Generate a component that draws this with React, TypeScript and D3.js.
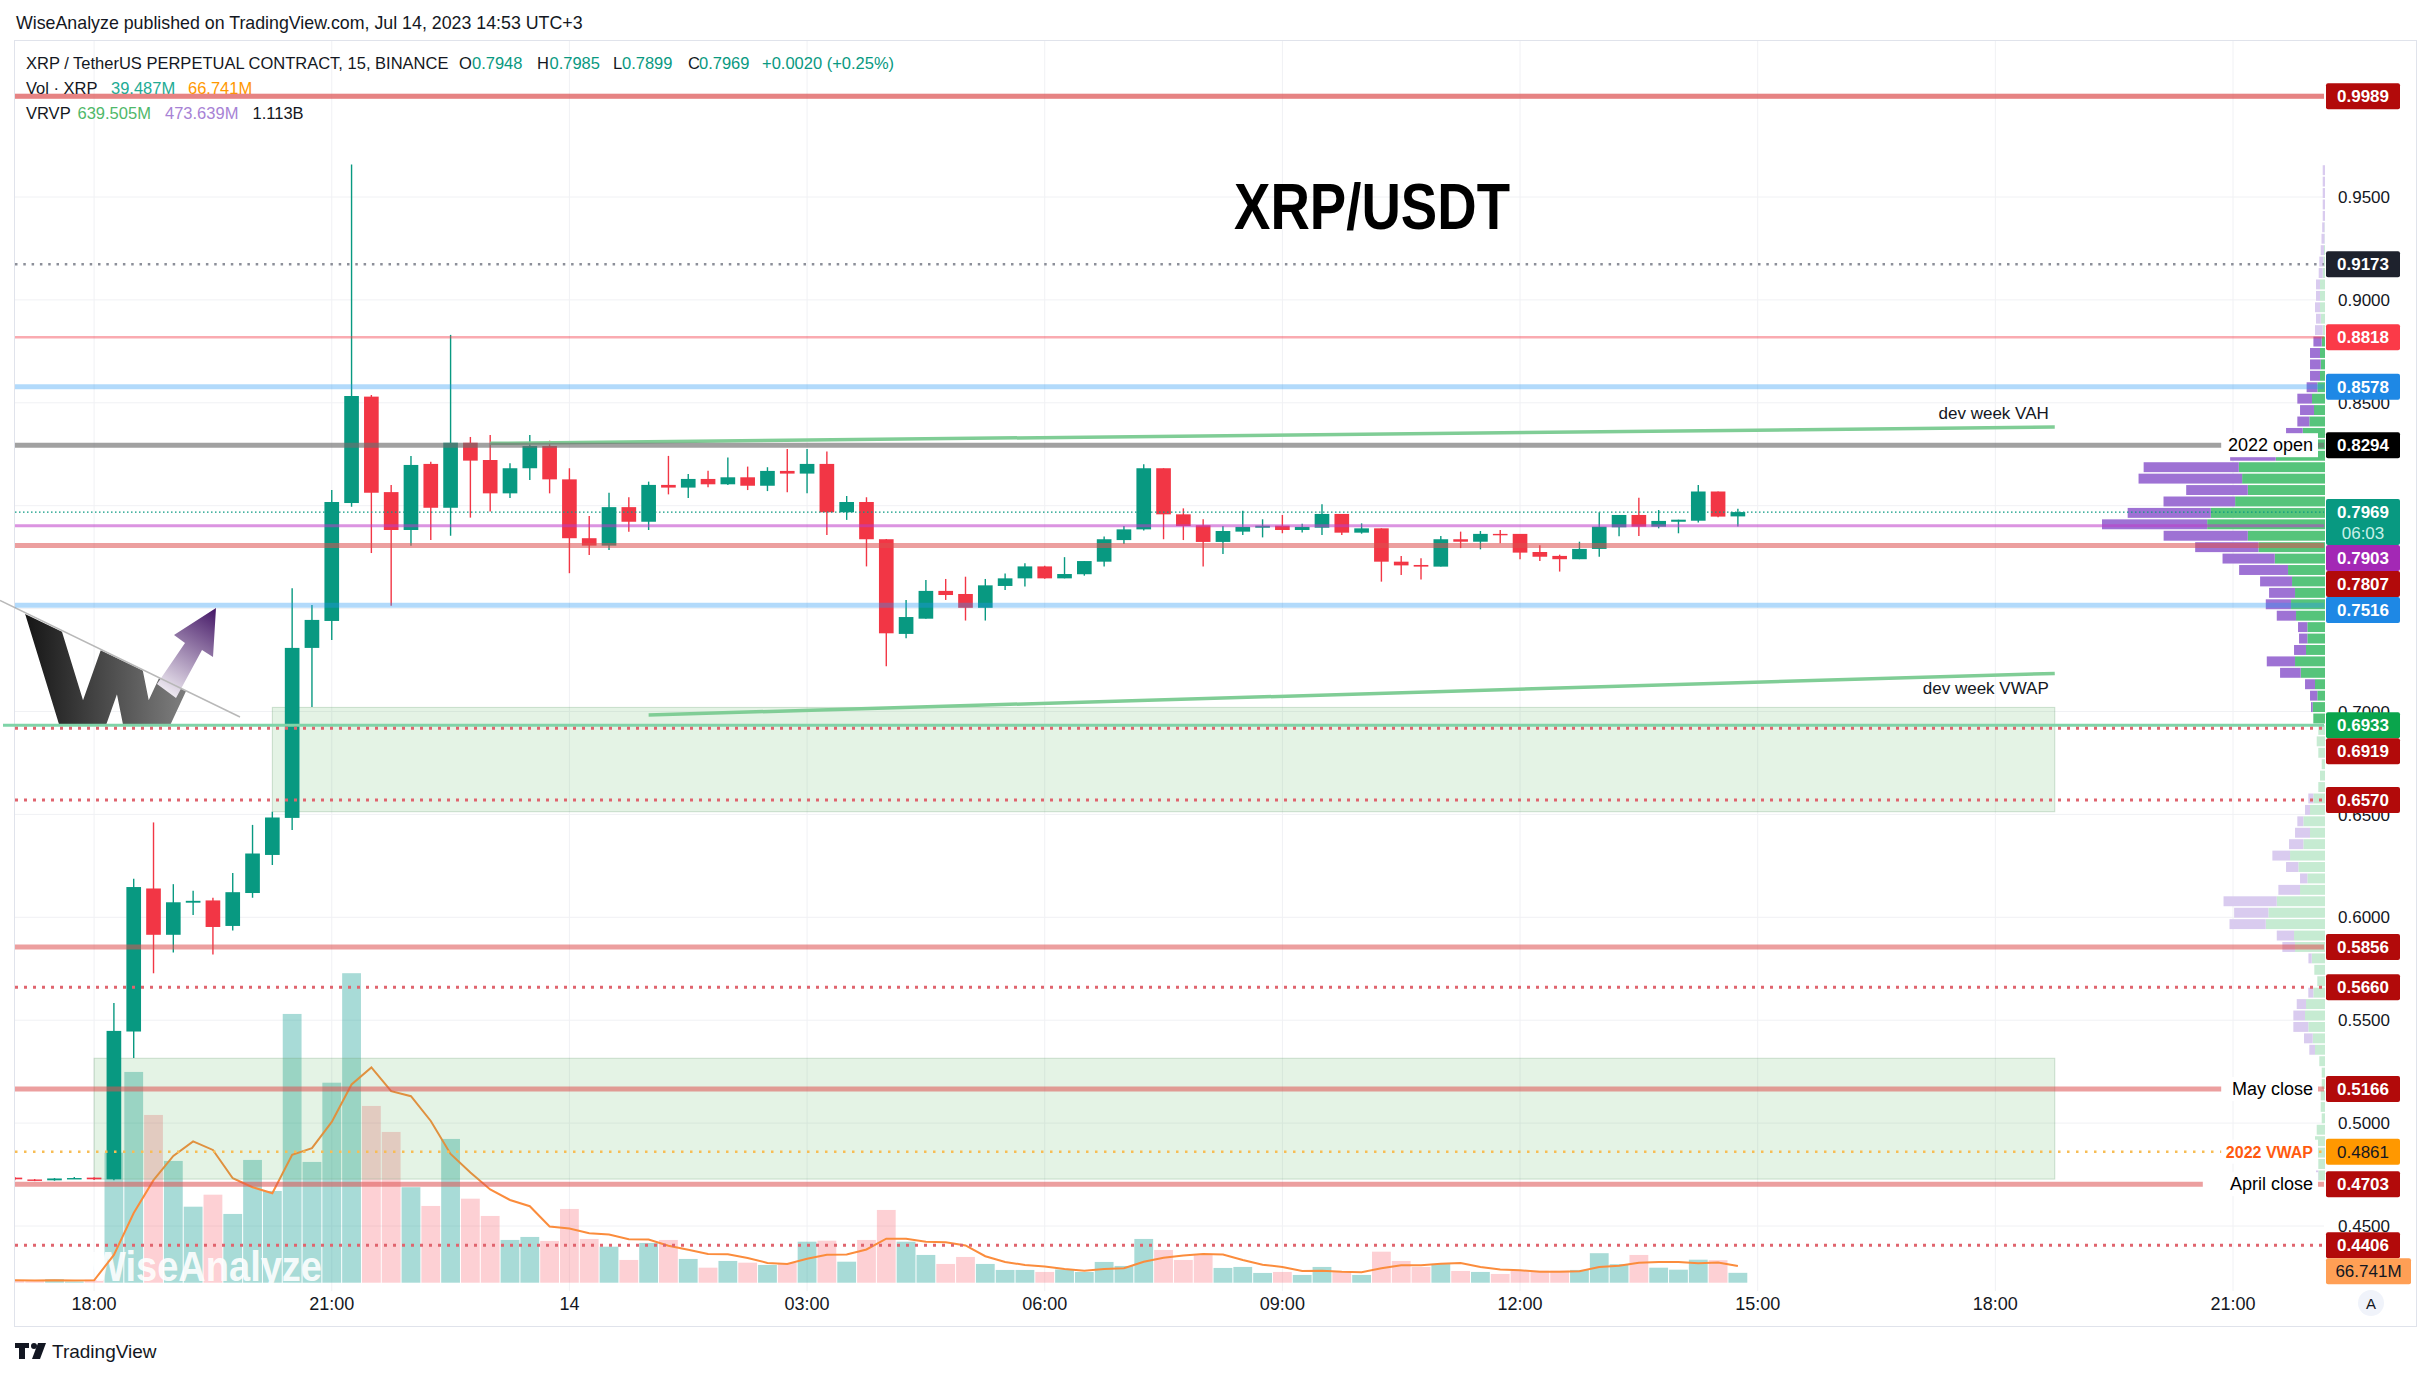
import * as d3 from "d3";

// 15 minute bars, first one Jul 13 2023 17:00 (exchange time, UTC+3)
const firstBar = new Date(2023, 6, 13, 17, 0);

const opens = [
  0.4735, 0.4726, 0.4722, 0.4730, 0.4735,
  0.4727, 0.5445, 0.6140, 0.5915, 0.6071, 0.6082, 0.5958, 0.6118, 0.6303, 0.6483,
  0.7309, 0.7440, 0.8013, 0.8530, 0.8066, 0.7882, 0.8203, 0.7990, 0.8306, 0.8222,
  0.8060, 0.8182, 0.8290, 0.8128, 0.7842, 0.7806, 0.7993, 0.7922, 0.8101, 0.8088,
  0.8130, 0.8104, 0.8138, 0.8097, 0.8169, 0.8156, 0.8203, 0.7968, 0.8018, 0.7837,
  0.7377, 0.7451, 0.7586, 0.7571, 0.7504, 0.7610, 0.7647, 0.7705, 0.7647, 0.7667,
  0.7728, 0.7833, 0.7885, 0.8182, 0.7958, 0.7905, 0.7824, 0.7874, 0.7893, 0.7903,
  0.7882, 0.7893, 0.7960, 0.7869, 0.7890, 0.7728, 0.7712, 0.7704, 0.7837, 0.7825,
  0.7863, 0.7863, 0.7775, 0.7756, 0.7740, 0.7790, 0.7895, 0.7955, 0.7898, 0.7922,
  0.7927, 0.8069, 0.7948,
];
const highs = [
  0.4738, 0.4728, 0.4733, 0.4738, 0.4737,
  0.5583, 0.6187, 0.6461, 0.6161, 0.6129, 0.6095, 0.6215, 0.6449, 0.6513, 0.7599,
  0.7517, 0.8076, 0.9658, 0.8538, 0.8100, 0.8242, 0.8214, 0.8830, 0.8334, 0.8343,
  0.8206, 0.8343, 0.8316, 0.8182, 0.7950, 0.8063, 0.8041, 0.8117, 0.8242, 0.8154,
  0.8170, 0.8234, 0.8190, 0.8187, 0.8276, 0.8276, 0.8263, 0.8047, 0.8041, 0.7838,
  0.7542, 0.7639, 0.7644, 0.7655, 0.7644, 0.7671, 0.7720, 0.7708, 0.7750, 0.7731,
  0.7850, 0.7901, 0.8201, 0.8182, 0.7987, 0.7934, 0.7901, 0.7975, 0.7934, 0.7955,
  0.7912, 0.8007, 0.7960, 0.7914, 0.7890, 0.7756, 0.7745, 0.7853, 0.7874, 0.7877,
  0.7882, 0.7863, 0.7808, 0.7762, 0.7825, 0.7968, 0.7955, 0.8039, 0.7979, 0.7932,
  0.8101, 0.8069, 0.7985,
];
const lows = [
  0.4722, 0.4718, 0.4720, 0.4728, 0.4724,
  0.4722, 0.5316, 0.5728, 0.5829, 0.6011, 0.5819, 0.5936, 0.6095, 0.6254, 0.6424,
  0.7022, 0.7347, 0.7995, 0.7770, 0.7514, 0.7806, 0.7833, 0.7854, 0.7942, 0.7972,
  0.8037, 0.8125, 0.8060, 0.7672, 0.7760, 0.7785, 0.7874, 0.7882, 0.8055, 0.8037,
  0.8090, 0.8101, 0.8076, 0.8071, 0.8065, 0.8060, 0.7858, 0.7931, 0.7705, 0.7220,
  0.7356, 0.7451, 0.7542, 0.7442, 0.7442, 0.7590, 0.7607, 0.7645, 0.7647, 0.7660,
  0.7705, 0.7814, 0.7880, 0.7837, 0.7833, 0.7705, 0.7765, 0.7858, 0.7846, 0.7866,
  0.7870, 0.7858, 0.7858, 0.7864, 0.7631, 0.7663, 0.7642, 0.7704, 0.7794, 0.7788,
  0.7817, 0.7740, 0.7731, 0.7680, 0.7740, 0.7752, 0.7851, 0.7853, 0.7890, 0.7866,
  0.7918, 0.7944, 0.7899,
];
const closes = [
  0.4727, 0.4722, 0.4731, 0.4733, 0.4727,
  0.5448, 0.6147, 0.5915, 0.6073, 0.6080, 0.5953, 0.6122, 0.6310, 0.6485, 0.7309,
  0.7445, 0.8018, 0.8533, 0.8063, 0.7882, 0.8198, 0.7990, 0.8306, 0.8219, 0.8060,
  0.8182, 0.8290, 0.8128, 0.7842, 0.7806, 0.7993, 0.7922, 0.8101, 0.8088, 0.8130,
  0.8104, 0.8138, 0.8097, 0.8169, 0.8156, 0.8203, 0.7968, 0.8018, 0.7837, 0.7380,
  0.7459, 0.7586, 0.7566, 0.7504, 0.7613, 0.7647, 0.7705, 0.7647, 0.7668, 0.7731,
  0.7837, 0.7885, 0.8182, 0.7958, 0.7901, 0.7824, 0.7877, 0.7897, 0.7903, 0.7882,
  0.7897, 0.7960, 0.7869, 0.7890, 0.7728, 0.7710, 0.7704, 0.7837, 0.7825, 0.7863,
  0.7858, 0.7772, 0.7752, 0.7740, 0.7790, 0.7898, 0.7955, 0.7898, 0.7926, 0.7932,
  0.8069, 0.7947, 0.7969,
];
// volume, millions of XRP
const volumes = [
  10, 6, 14, 5, 12,
  520, 843, 671, 487, 304, 352, 275, 491, 367, 1075,
  483, 800, 1238, 707, 603, 382, 307, 575, 336, 267,
  171, 183, 167, 295, 175, 144, 91, 159, 171, 95,
  60, 87, 80, 71, 79, 164, 168, 84, 171, 291,
  164, 111, 75, 103, 75, 51, 51, 43, 53, 43,
  83, 67, 175, 131, 91, 110, 59, 63, 39, 43,
  31, 63, 43, 31, 124, 87, 63, 75, 47, 43,
  35, 48, 48, 48, 51, 118, 74, 111, 60, 52,
  92, 90, 39.487,
];
// volume moving average as drawn (orange line)
const volumeMa = [
  10, 9, 10, 9, 9.4,
  111, 279, 410, 507, 565, 531, 418, 382, 358, 512,
  538, 643, 793, 861, 766, 746, 647, 515, 441, 373,
  331, 306, 225, 217, 198, 193, 174, 173, 148, 132,
  115, 114, 99, 79, 75, 96, 112, 113, 133, 176,
  176, 164, 162, 149, 106, 83, 71, 65, 55, 48,
  55, 58, 84, 100, 109, 115, 113, 91, 72, 63,
  47, 48, 44, 42, 58, 70, 70, 76, 79, 63,
  53, 50, 44, 44, 46, 63, 68, 80, 83, 83,
  78, 81, 66.741,
];

// horizontal levels
const levelPrices = [0.9989, 0.9173, 0.8818, 0.8578, 0.8294, 0.7903, 0.7807, 0.7516, 0.6933,
  0.6919, 0.6570, 0.5856, 0.5660, 0.5166, 0.4861, 0.4703, 0.4406];
const levelNotes = ["", "", "", "", "2022 open", "", "", "", "", "", "", "", "", "May close",
  "2022 VWAP", "April close", ""];

// green zones
const zoneTop = [0.7020, 0.5315];
const zoneBottom = [0.6513, 0.4728];
const zoneStart = [new Date(2023, 6, 13, 20, 15), new Date(2023, 6, 13, 18, 0)];
const zoneEnd = [new Date(2023, 6, 14, 18, 45), new Date(2023, 6, 14, 18, 45)];

// trend lines
const trendNames = ["dev week VAH", "dev week VWAP"];
const trendStart = [new Date(2023, 6, 13, 23, 0), new Date(2023, 6, 14, 1, 0)];
const trendEnd = [new Date(2023, 6, 14, 18, 45), new Date(2023, 6, 14, 18, 45)];
const trendFrom = [0.8303, 0.6983];
const trendTo = [0.8382, 0.7185];

// visible range volume profile, rows top to bottom
const profileUp = [
  0, 0, 0, 0, 0, 0.5, 0.5, 1, 1.7, 2.3, 5, 5, 5, 4.3, 2.3,
  3.3, 5, 4.3, 5, 7.7, 13, 11, 15.7, 22.3, 25, 49.3, 86.3, 83, 77.3, 90,
  114.3, 118, 77.3, 66.7, 50.3, 37, 33, 30, 34, 29, 17.7, 17.7, 19, 30, 24.3,
  10, 7.7, 12.3, 11.7, 6.7, 8.3, 6.7, 3.3, 5, 6.7, 11.7, 15, 21.7, 15, 21.7,
  35, 26.7, 17.7, 25, 48.3, 56.7, 59.3, 31, 30, 13.3, 10.7, 7.7, 11.7, 19, 20,
  16.7, 12.3, 10, 5.7, 3.3, 3.3, 4.3, 4.3, 3.3, 8.3, 10, 8.3, 6.7, 6.7,
];
const profileDown = [
  2.3, 2.3, 2.3, 2.3, 2.3, 2.3, 3, 3.3, 4, 4, 4, 4, 5, 4.7, 7.7,
  8.3, 10, 10.7, 10, 10.7, 14.7, 14, 12, 16.7, 32, 45.7, 95.3, 103.7, 61.7, 71.7,
  83.3, 105.3, 84.3, 63.3, 52.3, 49, 32, 26, 25.3, 19.3, 9.3, 8.3, 12, 28.3, 20.7,
  10, 7.3, 1.7, 0, 0, 0, 0, 0, 0, 0, 5, 5, 6, 15, 14.3,
  17.7, 12.3, 7.3, 21.7, 53.3, 34.3, 36.3, 17.3, 12.7, 3.3, 0, 0, 5, 9.3, 11.7,
  15, 8.7, 5.7, 0, 0, 0, 0, 0, 0, 0, 0, 0, 0, 2.3,
];
const valueAreaRows = [15, 48];

const lastPrice = 0.7969;
const countdown = "06:03";

const darkRed = "#b20a0a";
const thickRed = { stroke: "rgba(220,80,80,0.55)", w: 5, dash: "", tag: darkRed, fg: "#fff" };
const dotRed = { stroke: "#e0646e", w: 3, dash: "3 6", tag: darkRed, fg: "#fff" };
const blue = { stroke: "rgba(33,150,243,0.35)", w: 5, dash: "", tag: "#1e88e5", fg: "#fff" };
const levelStyles = [
  thickRed,
  { stroke: "#8c8f99", w: 2.5, dash: "2.5 5.8", tag: "#1e222d", fg: "#fff" },
  { stroke: "rgba(242,54,69,0.42)", w: 2.5, dash: "", tag: "#fb3a48", fg: "#fff" },
  blue,
  { stroke: "rgba(110,110,110,0.65)", w: 5, dash: "", tag: "#000000", fg: "#fff" },
  { stroke: "rgba(190,60,200,0.55)", w: 3, dash: "", tag: "#a328b5", fg: "#fff" },
  thickRed,
  blue,
  { stroke: "#7fd4a8", w: 3, dash: "", tag: "#0aa54c", fg: "#fff" },
  dotRed,
  dotRed,
  thickRed,
  dotRed,
  thickRed,
  { stroke: "#f7bd55", w: 2.5, dash: "2.5 6.5", tag: "#ff9800", fg: "#131722" },
  thickRed,
  dotRed,
];

export default function App() {
  const W = 2433, H = 1378;
  const plotL = 15, plotR = 2324, plotT = 41, plotB = 1291;
  const axisX = 2325;

  const x = d3.scaleTime([new Date(2023, 6, 13, 18, 0), new Date(2023, 6, 14, 21, 0)], [94.1, 2233]);
  const y = d3.scaleLinear([0.45, 0.95], [1226, 197]);
  const vy = d3.scaleLinear([0, 1240], [1282.7, 972.7]);

  const barAt = (i: number) => d3.timeMinute.offset(firstBar, 15 * i);
  const step = x(barAt(1)) - x(barAt(0));
  const bodyW = step * 0.74;

  const bars = opens.map((o, i) => ({
    t: barAt(i), o, h: highs[i], l: lows[i], c: closes[i], v: volumes[i], ma: volumeMa[i],
  }));
  const upC = "#089981", dnC = "#f23645";

  const timeTicks = d3.timeHour.every(3)!.range(new Date(2023, 6, 13, 18), new Date(2023, 6, 14, 22));
  const fmtTime = (d: Date) => d.getHours() === 0 ? d3.timeFormat("%-d")(d) : d3.timeFormat("%H:%M")(d);
  const maPath = d3.line<any>().x(d => x(d.t)).y(d => vy(d.ma))(bars) || "";

  // profile geometry
  const pHigh = d3.max(highs)!, pLow = d3.min(lows)!;
  const rowH = (y(pLow) - y(pHigh)) / profileUp.length;
  const pw = d3.scaleLinear([0, d3.max(profileUp, (u, i) => u + profileDown[i])!], [0, 223]);

  // price scale tags, stacked so they do not overlap
  const tags: any[] = levelPrices.map((p, i) => ({
    y: y(p), h: 26, text: d3.format(".4f")(p), bg: levelStyles[i].tag, fg: levelStyles[i].fg, w: 74,
  }));
  tags.push({ y: y(lastPrice), h: 46, text: d3.format(".4f")(lastPrice), sub: countdown, bg: "#089981", fg: "#fff", w: 74 });
  tags.push({ y: vy(volumeMa[volumeMa.length - 1]), h: 26, text: d3.format(".3f")(volumeMa[volumeMa.length - 1]) + "M", bg: "#ff9f55", fg: "#131722", w: 85, thin: true });
  tags.sort((a, b) => a.y - b.y);
  let lastBottom = -Infinity;
  for (const t of tags) {
    let top = t.y - 13;
    if (top < lastBottom) top = lastBottom;
    t.top = top;
    lastBottom = top + t.h;
  }

  // tick labels that sit fully under a tag are hidden, as on the price scale
  const priceTicks = y.ticks(10);
  const shownTicks = priceTicks.filter(p => !tags.some(t => y(p) > t.top + 2 && y(p) < t.top + t.h - 2));

  const dark = "#131722";
  const sans = "'Liberation Sans', Arial, sans-serif";

  return (
    <svg width={W} height={H} style={{ position: "absolute", left: 0, top: 0, background: "#fff" }} fontFamily={sans}>
      <defs>
        <clipPath id="plot"><rect x={plotL} y={plotT} width={plotR - plotL} height={plotB - plotT} /></clipPath>
        <clipPath id="wclip"><polygon points="0,602 250,722 250,726 0,726" /></clipPath>
        <linearGradient id="wgrad" x1="20" y1="0" x2="178" y2="0" gradientUnits="userSpaceOnUse">
          <stop offset="0" stopColor="#121212" />
          <stop offset="1" stopColor="#7a7a7a" />
        </linearGradient>
        <linearGradient id="agrad" x1="160" y1="700" x2="215" y2="609" gradientUnits="userSpaceOnUse">
          <stop offset="0" stopColor="#ffffff" />
          <stop offset="1" stopColor="#451867" />
        </linearGradient>
      </defs>

      <rect width={W} height={H} fill="#fff" />
      <text x={16} y={29} fontSize={17.8} fill={dark}>WiseAnalyze published on TradingView.com, Jul 14, 2023 14:53 UTC+3</text>
      <rect x={14.5} y={40.5} width={2402} height={1286} fill="none" stroke="#e0e3eb" />

      {/* grid */}
      <g stroke="#f0f1f4" strokeWidth={1}>
        {priceTicks.map(p => <line key={"h" + p} x1={plotL} x2={plotR} y1={y(p)} y2={y(p)} />)}
        {timeTicks.map(t => <line key={"v" + t.getTime()} x1={x(t)} x2={x(t)} y1={plotT} y2={plotB} />)}
      </g>

      <g clipPath="url(#plot)">
        {/* volume */}
        {bars.map((d, i) => (
          <rect key={"v" + i} x={x(d.t) - step / 2 + 0.5} width={step - 1} y={vy(d.v)} height={vy(0) - vy(d.v)}
            fill={d.c >= d.o ? "rgba(38,166,154,0.4)" : "rgba(247,82,95,0.27)"} />
        ))}
        <text x={90} y={1281} fontSize={42} fontWeight={700} fill="#fff" fillOpacity={0.9} textLength={232} lengthAdjust="spacingAndGlyphs">WiseAnalyze</text>
        <path d={maPath} fill="none" stroke="#fb8c3c" strokeWidth={2} />

        {/* zones */}
        {zoneTop.map((p, i) => (
          <rect key={"z" + i} x={x(zoneStart[i])} y={y(p)} width={x(zoneEnd[i]) - x(zoneStart[i])} height={y(zoneBottom[i]) - y(p)}
            fill="rgba(76,175,80,0.15)" stroke="rgba(120,170,130,0.35)" strokeWidth={1} />
        ))}

        {/* candles */}
        {bars.map((d, i) => {
          const col = d.c >= d.o ? upC : dnC;
          const yt = y(Math.max(d.o, d.c)), yb = y(Math.min(d.o, d.c));
          return (
            <g key={"c" + i}>
              <line x1={x(d.t)} x2={x(d.t)} y1={y(d.h)} y2={y(d.l)} stroke={col} strokeWidth={1.4} />
              <rect x={x(d.t) - bodyW / 2} y={yt} width={bodyW} height={Math.max(1.4, yb - yt)} fill={col} />
            </g>
          );
        })}
      </g>

      {/* logo */}
      <polyline points="35,595 82,748 121,638 143,748 184,660" fill="none" stroke="url(#wgrad)" strokeWidth={30}
        strokeLinejoin="miter" strokeMiterlimit={10} clipPath="url(#wclip)" />
      <polygon points="157,684 185,643 174,635 216,608 213,657 202,650 176,698" fill="url(#agrad)" />
      <line x1={0} y1={600.5} x2={240} y2={717} stroke="#b8b8b8" strokeWidth={1.5} />

      {/* volume profile */}
      {profileUp.map((u, i) => {
        const inVA = i >= valueAreaRows[0] && i <= valueAreaRows[1];
        const top = y(pHigh) + i * rowH + 0.75;
        const wu = pw(u), wd = pw(profileDown[i]);
        return (
          <g key={"p" + i}>
            <rect x={axisX - wu} y={top} width={wu} height={rowH - 1.5} fill={inVA ? "#56c47b" : "#c6ebd2"} />
            <rect x={axisX - wu - wd} y={top} width={wd} height={rowH - 1.5} fill={inVA ? "#9e72d4" : "#d9cbef"} />
          </g>
        );
      })}

      {/* trend lines */}
      {trendNames.map((n, i) => {
        const x1 = x(trendStart[i]), x2 = x(trendEnd[i]);
        const y1 = y(trendFrom[i]), y2 = y(trendTo[i]);
        const above = i === 0;
        return (
          <g key={"t" + i}>
            <line x1={x1} y1={y1} x2={x2} y2={y2} stroke="#80cd96" strokeWidth={3.5} />
            <text x={x2 - 6} y={above ? y2 - 8 : y2 + 21} fontSize={17} fill={dark} textAnchor="end">{n}</text>
          </g>
        );
      })}

      {/* horizontal levels */}
      {levelPrices.map((p, i) => {
        const s = levelStyles[i];
        const note = levelNotes[i];
        const x0 = i === 8 ? 3 : plotL;
        const gap = note.length * 9.2 + 14;
        return (
          <g key={"l" + i}>
            <line x1={x0} x2={plotR} y1={y(p)} y2={y(p)} stroke={s.stroke} strokeWidth={s.w} strokeDasharray={s.dash || undefined} />
            {note && <rect x={2318 - gap} y={y(p) - 12} width={gap} height={24} fill="#fff" />}
            {note && (
              <text x={2313} y={y(p) + 6} fontSize={note === "2022 VWAP" ? 16 : 18} textAnchor="end"
                fontWeight={note === "2022 VWAP" ? 700 : 400} fill={note === "2022 VWAP" ? "#ff5a0f" : "#000"}>{note}</text>
            )}
          </g>
        );
      })}
      <line x1={plotL} x2={plotR} y1={y(lastPrice)} y2={y(lastPrice)} stroke="#089981" strokeWidth={1.3} strokeDasharray="1.5 2.5" />

      {/* title */}
      <text x={1372} y={229} fontSize={64} fontWeight={700} fill="#000" textAnchor="middle" textLength={276} lengthAdjust="spacingAndGlyphs">XRP/USDT</text>

      {/* legend */}
      <g fontSize={16.5}>
        <text x={26} y={68.5} fill={dark}>XRP / TetherUS PERPETUAL CONTRACT, 15, BINANCE</text>
        <text y={68.5}>
          <tspan x={459} fill={dark}>O</tspan><tspan x={472} fill={upC}>0.7948</tspan>
          <tspan x={537} fill={dark}>H</tspan><tspan x={549.5} fill={upC}>0.7985</tspan>
          <tspan x={613} fill={dark}>L</tspan><tspan x={622} fill={upC}>0.7899</tspan>
          <tspan x={688} fill={dark}>C</tspan><tspan x={699} fill={upC}>0.7969</tspan>
          <tspan x={762} fill={upC}>+0.0020 (+0.25%)</tspan>
        </text>
        <text y={94}>
          <tspan x={26} fill={dark}>Vol · XRP</tspan>
          <tspan x={111} fill="#22ab94">39.487M</tspan>
          <tspan x={188} fill="#ff9800">66.741M</tspan>
        </text>
        <text y={119}>
          <tspan x={26} fill={dark}>VRVP</tspan>
          <tspan x={77.5} fill="#4fb86a">639.505M</tspan>
          <tspan x={165} fill="#a782d5">473.639M</tspan>
          <tspan x={252.5} fill={dark}>1.113B</tspan>
        </text>
      </g>
      {/* the top level line crosses the legend */}
      <line x1={plotL} x2={plotR} y1={y(levelPrices[0])} y2={y(levelPrices[0])} stroke="rgba(220,80,80,0.35)" strokeWidth={5} />

      {/* price scale */}
      <g fontSize={17} fill={dark} textAnchor="middle">
        {shownTicks.map(p => <text key={"pt" + p} x={2364} y={y(p)} dy="0.36em">{d3.format(".4f")(p)}</text>)}
      </g>
      {tags.map((t, i) => (
        <g key={"tag" + i}>
          <rect x={2326} y={t.top} width={t.w} height={t.h} rx={2} fill={t.bg} />
          <text x={2326 + t.w / 2} y={t.top + 13} dy="0.36em" fontSize={17} fontWeight={t.thin || t.fg !== "#fff" ? 400 : 700}
            fill={t.fg} textAnchor="middle">{t.text}</text>
          {t.sub && <text x={2326 + t.w / 2} y={t.top + 34} dy="0.36em" fontSize={17} fill="#c9f0e8" textAnchor="middle">{t.sub}</text>}
        </g>
      ))}

      {/* time scale */}
      <g fontSize={18} fill={dark} textAnchor="middle">
        {timeTicks.map(t => <text key={"tt" + t.getTime()} x={x(t)} y={1309.5}>{fmtTime(t)}</text>)}
      </g>
      <circle cx={2371} cy={1303} r={13} fill="#f0f3fa" />
      <text x={2371} y={1309} fontSize={15} fill={dark} textAnchor="middle">A</text>

      {/* footer */}
      <path d="M15 1343h14v5h-4v11h-6v-11h-4z" fill={dark} />
      <circle cx={34} cy={1346} r={3} fill={dark} />
      <path d="M38 1343h8l-6 16h-8z" fill={dark} />
      <text x={52} y={1358} fontSize={19} fill={dark}>TradingView</text>
    </svg>
  );
}
